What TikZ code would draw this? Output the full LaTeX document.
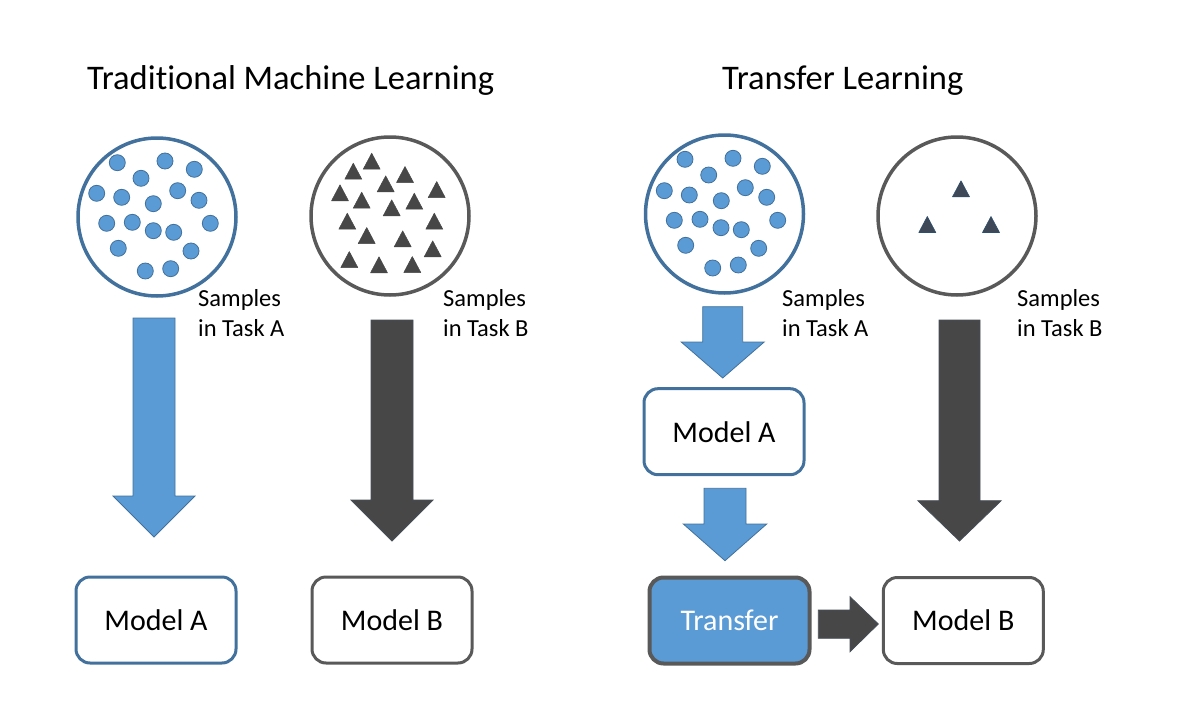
\documentclass[tikz,border=0pt]{standalone}
\usepackage{fontspec}
\setmainfont{Carlito}[Ligatures=NoCommon]
\definecolor{blueF}{HTML}{5B9BD5}
\definecolor{blueD}{HTML}{41719C}
\definecolor{grayD}{HTML}{595959}
\definecolor{grayF}{HTML}{474747}
\definecolor{triC}{HTML}{3E4857}
\newcommand\blockdown[7]{%
  \draw[#7] (#1-#5,#2) -- (#1+#5,#2) -- (#1+#5,#3) -- (#1+#6,#3) -- (#1,#4)
    -- (#1-#6,#3) -- (#1-#5,#3) -- cycle;}
\begin{document}
\begin{tikzpicture}[x=1pt,y=-1pt,
  ring/.style={circle, line width=3.5pt, minimum size=158pt, inner sep=0pt, fill=white},
  bluering/.style={ring, draw=blueD},
  grayring/.style={ring, draw=grayD},
  dot/.style={fill=blueF, draw=blueD, line width=0.8pt},
  tri/.style={fill=grayF, draw=grayF, line width=0.5pt, line join=round},
  tri2/.style={fill=triC, draw=blueD!70!black, line width=0.6pt, line join=round},
  modelbox/.style={rectangle, rounded corners=14pt, line width=3pt, fill=white,
    minimum width=160pt, minimum height=86pt, inner sep=0pt,
    font=\fontsize{30}{36}\selectfont},
  boxA/.style={modelbox, draw=blueD},
  boxB/.style={modelbox, draw=grayD},
  boxT/.style={modelbox, draw=grayD, fill=blueF, line width=4pt, text=white},
  barrow/.style={fill=blueF, draw=blueD, line width=0.8pt},
  darrow/.style={fill=grayF, draw=grayF!80!blueD, line width=0.8pt},
  title/.style={anchor=base west, inner sep=0pt, font=\fontsize{34.5}{40}\selectfont},
  lab/.style={anchor=base west, inner sep=0pt, align=left, font=\fontsize{24.5}{29.5}\selectfont}
]
\useasboundingbox (0,0) rectangle (1200,720);

% titles
\node[title] (t1) at (87,89) {Traditional Machine Learning};
\node[title] (t2) at (722,89) {Transfer Learning};

% sample circles
\node[bluering] (cA1) at (157,217) {};
\node[grayring] (cB1) at (390,216) {};
\node[bluering] (cA2) at (724.5,214) {};
\node[grayring] (cB2) at (957,216) {};

% dots, left circle A
\foreach \x/\y in {117.3/162.7,165/161,194.3/169.3,141/178.3,96.7/193.3,121.7/197.3,
  177.7/190.7,199/200.3,153.3/203.7,106.7/223.3,132.3/222.3,153.3/230.7,173.7/232.3,
  210.3/223.3,118.3/248.3,191/251,145.3/271,170.7/268.7}
  \draw[dot] (\x,\y) circle (8);
% dots, right circle A
\foreach \x/\y in {685/159.3,733/158.3,762.3/166.3,708.7/175,664.3/190.7,689.3/195,
  745.3/187.7,766.7/197.3,721.3/200.7,674.3/220.3,700/219.3,721/227.7,741.3/229.7,
  777.7/220.3,685.7/245.3,758.7/248.3,712.7/268,738.3/265}
  \draw[dot] (\x,\y) circle (8);
% triangles, left circle B
\foreach \x/\y in {371.7/161.7,353.3/171.7,405/175,385.7/184.3,340/193.3,436.7/190,
  361.7/200.7,414.3/201.7,391.7/208.3,347.3/221.7,434.3/221.7,366.7/236,402.7/239.3,
  432.7/249.3,349.3/260,379/265.3,412.3/265}
  \draw[tri] (\x-8.5,\y+7.5) -- (\x+8.5,\y+7.5) -- (\x,\y-8.5) -- cycle;
% triangles, right circle B
\foreach \x/\y in {961/189.3,927.3/225,991/225}
  \draw[tri2] (\x-8.5,\y+7.5) -- (\x+8.5,\y+7.5) -- (\x,\y-8.5) -- cycle;

% labels (base anchor sits on the last line)
\node[lab] (lA1) at (198,336) {Samples\\in Task A};
\node[lab] (lB1) at (443,336) {Samples\\in Task B};
\node[lab] (lA2) at (782,336) {Samples\\in Task A};
\node[lab] (lB2) at (1017,336) {Samples\\in Task B};

% boxes
\node[boxA] (mA1) at (156,620) {Model A};
\node[boxB] (mB1) at (392,620) {Model B};
\node[boxA] (mA2) at (724,431.7) {Model A};
\node[boxT] (tr) at (729.5,620.5) {Transfer};
\node[boxB] (mB2) at (963.3,620.5) {Model B};

% block arrows (down): centre x, top, head start, tip, shaft half, head half
\blockdown{154}{318}{496}{537}{21}{41}{barrow}
\blockdown{392}{320}{500}{541}{21}{41}{darrow}
\blockdown{722.7}{306.7}{342}{378}{20}{41.5}{barrow}
\blockdown{725}{488.3}{524}{560.7}{21}{41.7}{barrow}
\blockdown{959.5}{320}{500.7}{541}{20.5}{41.7}{darrow}
% horizontal arrow Transfer -> Model B
\draw[darrow] (818.3,610) -- (850,610) -- (850,596.7) -- (878.3,624) -- (850,651.7)
  -- (850,638.3) -- (818.3,638.3) -- cycle;
\end{tikzpicture}
\end{document}
